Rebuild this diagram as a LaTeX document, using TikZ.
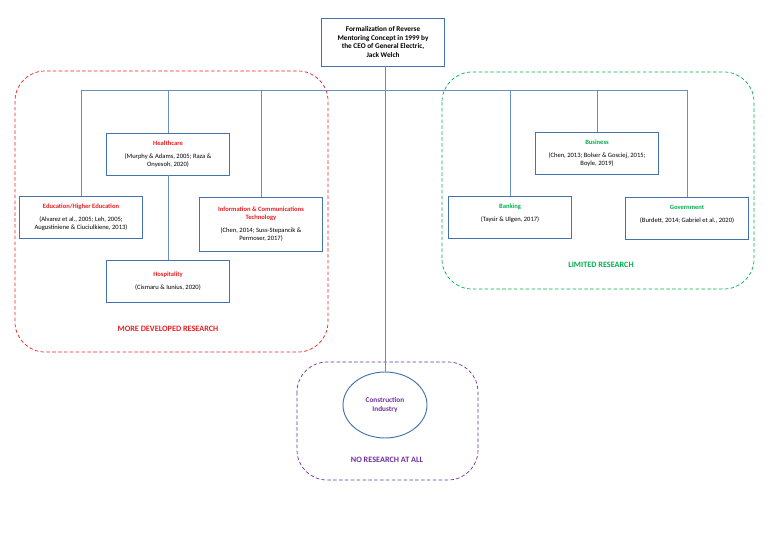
\documentclass[tikz,border=0pt]{standalone}
\usepackage{fontspec}
\setmainfont{Carlito}
\usetikzlibrary{shapes.geometric, positioning}
\definecolor{boxblue}{RGB}{68,114,176}
\definecolor{redtxt}{RGB}{235,30,35}
\definecolor{greentxt}{RGB}{0,176,80}
\definecolor{purptxt}{RGB}{112,48,160}
\tikzstyle{sector} = [rectangle, draw=boxblue, line width=0.8pt, fill=white, minimum width=123*0.03cm, align=center, font=\fontsize{5.6pt}{7pt}\selectfont, inner sep=2pt]
\tikzstyle{group} = [rounded corners=30*0.03cm, densely dashed, line width=0.6pt]
\tikzstyle{link} = [draw=boxblue!80, line width=0.6pt]
\tikzstyle{head} = [font=\fontsize{7pt}{8pt}\selectfont\bfseries]

\begin{document}
\begin{tikzpicture}[x=0.03cm, y=-0.03cm]
                \useasboundingbox (0,0) rectangle (768,543);
                % groups
                \draw [group, draw=redtxt] (15,71) rectangle (328,352);
                \draw [group, draw=greentxt] (442,72) rectangle (754,289);
                \draw [group, draw=purptxt] (297,362) rectangle (478,480);

                \node (top) [sector, minimum height=48*0.03cm, font=\fontsize{6.2pt}{7.6pt}\selectfont\bfseries] at (383,42) {Formalization of Reverse\\Mentoring Concept in 1999 by\\the CEO of General Electric,\\Jack Welch};
                \node (health) [sector, minimum height=42*0.03cm] at (168,154) {{\color{redtxt}\bfseries Healthcare}\\[4pt](Murphy \& Adams, 2005; Raza \&\\Onyesoh, 2020)};
                \node (edu) [sector, minimum height=42*0.03cm] at (81,217) {{\color{redtxt}\bfseries Education/Higher Education}\\[4pt](Alvarez et al., 2005; Leh, 2005;\\Augustiniene \& Ciuciulkiene, 2013)};
                \node (ict) [sector, minimum height=54*0.03cm] at (261,224) {{\color{redtxt}\bfseries Information \& Communications}\\{\color{redtxt}\bfseries Technology}\\[4pt](Chen, 2014; Suss-Stepancik \&\\Permoser, 2017)};
                \node (hosp) [sector, minimum height=42*0.03cm] at (168,281) {{\color{redtxt}\bfseries Hospitality}\\[4pt](Cismaru \& Iunius, 2020)};
                \node (business) [sector, minimum height=42*0.03cm] at (597,153) {{\color{greentxt}\bfseries Business}\\[4pt](Chen, 2013; Bolser \& Gosciej, 2015;\\Boyle, 2019)};
                \node (banking) [sector, minimum height=42*0.03cm] at (510,217) {{\color{greentxt}\bfseries Banking}\\[4pt](Taysir \& Ulgen, 2017)\\ };
                \node (gov) [sector, minimum height=42*0.03cm] at (687,218) {{\color{greentxt}\bfseries Government}\\[4pt](Burdett, 2014; Gabriel et al., 2020)\\ };
                \node (constr) [ellipse, draw=boxblue, line width=0.8pt, fill=white, minimum width=84*0.03cm, minimum height=66*0.03cm, align=center, font=\fontsize{6.2pt}{7.4pt}\selectfont\bfseries, text=purptxt] at (385,405) {Construction\\Industry};

                \node (more) [head, text=redtxt] at (168,329) {MORE DEVELOPED RESEARCH};
                \node (limited) [head, text=greentxt] at (601,265) {LIMITED RESEARCH};
                \node (none) [head, text=purptxt] at (387,460) {NO RESEARCH AT ALL};

                \coordinate (busL) at (81,90);
                \coordinate (busR) at (687,90);
                \draw [link] (busL) -- (busR);
                \draw [link] (constr.north |- top.south) -- (constr.north);
                \draw [link] (busL) -- (edu.north);
                \draw [link] (health.north |- busL) -- (health.north);
                \draw [link] (ict.north |- busL) -- (ict.north);
                \draw [link] (health) -- (hosp);
                \draw [link] (banking.north |- busL) -- (banking.north);
                \draw [link] (business.north |- busL) -- (business.north);
                \draw [link] (busR) -- (gov.north);
            \end{tikzpicture}
\end{document}
